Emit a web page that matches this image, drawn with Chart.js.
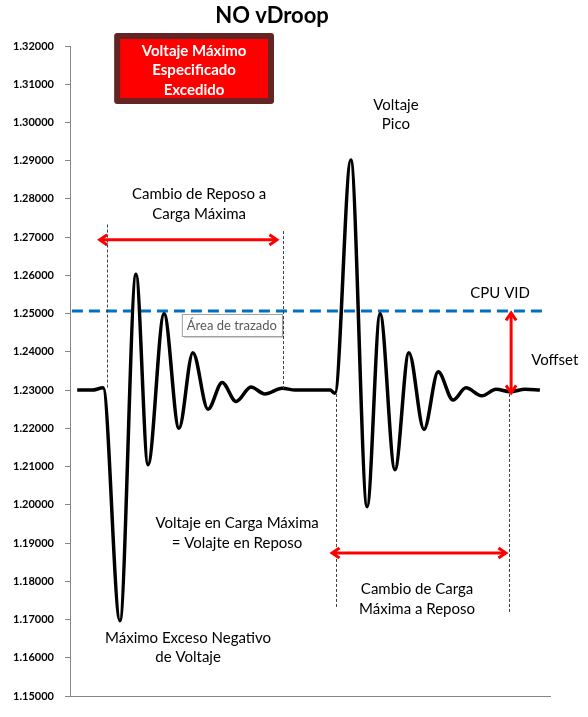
<!DOCTYPE html>
<html>
<head>
<meta charset="utf-8">
<script src="https://cdn.jsdelivr.net/npm/chart.js@4.4.0/dist/chart.umd.min.js"></script>
<style>
  html, body { margin: 0; padding: 0; background: #fff; }
  #wrap { width: 588px; height: 717px; }
</style>
</head>
<body>
<div id="wrap"><canvas id="myChart"></canvas></div>
<script>
// tiempo (unidades arbitrarias) y voltaje
const tiempo = [1.5, 4.6, 6.9, 10.4, 13.75, 16.25, 19.6, 22.7, 25.6, 28.75, 31.7, 34.6, 37.7, 40.6, 44.2, 46.9,
  54.2, 55.2, 58.5, 61.9, 64.6, 67.7, 70.6, 73.75, 76.7, 79.8, 82.5, 85.8, 88.75, 91.7, 94.8, 97.9];
const voltaje = [1.2300, 1.2300, 1.2306, 1.1697, 1.2603, 1.2105, 1.2500, 1.2200, 1.2398, 1.2250, 1.2320, 1.2270, 1.2308, 1.2290, 1.2305, 1.2300,
  1.2300, 1.2292, 1.2902, 1.1995, 1.2500, 1.2092, 1.2398, 1.2197, 1.2348, 1.2274, 1.2306, 1.2285, 1.2302, 1.2296, 1.2302, 1.2300];

const vidTiempo = [0.4, 99.0];
const vidVoltaje = [1.2507, 1.2507];

const yTicks = [1.15, 1.16, 1.17, 1.18, 1.19, 1.20, 1.21, 1.22, 1.23, 1.24, 1.25, 1.26, 1.27, 1.28, 1.29, 1.30, 1.31, 1.32];

// lineas guia punteadas: [t, v1, v2]
const guias = [[7.8, 1.2733, 1.2305], [44.4, 1.2716, 1.2300], [55.4, 1.2290, 1.1730], [91.5, 1.2290, 1.1716]];
// flechas rojas: [t1, v1, t2, v2]
const flechas = [[6.2, 1.2693, 43.1, 1.2693], [54.6, 1.1874, 90.8, 1.1874], [91.9, 1.2502, 91.9, 1.2293]];
// textos: [texto, t, v]
const textos = [
  ["Cambio de Reposo a", 26.9, 1.2812], ["Carga Máxima", 26.9, 1.2760],
  ["Voltaje", 67.9, 1.3046], ["Pico", 67.9, 1.2996],
  ["CPU VID", 89.6, 1.2554],
  ["Voffset", 101.0, 1.2379],
  ["Voltaje en Carga Máxima", 34.8, 1.1953], ["= Volajte en Reposo", 34.8, 1.1901],
  ["Cambio de Carga", 72.3, 1.1780], ["Máxima a Reposo", 72.3, 1.1728],
  ["Máximo Exceso Negativo", 24.6, 1.1652], ["de Voltaje", 24.6, 1.1602]
];
const cajaRoja = { t1: 9.2, v1: 1.3234, t2: 42.5, v2: 1.3048, lineas: ["Voltaje Máximo", "Especificado", "Excedido"] };
const areaTrazado = { t: 23.3, v: 1.2499, texto: "Área de trazado" };

const FONT = "Lato, 'Noto Sans', sans-serif";

function flechaDoble(ctx, x1, y1, x2, y2) {
  const ang = Math.atan2(y2 - y1, x2 - x1);
  const h = 9;
  ctx.beginPath();
  ctx.moveTo(x1, y1);
  ctx.lineTo(x2, y2);
  ctx.stroke();
  [[x2, y2, ang], [x1, y1, ang + Math.PI]].forEach(([x, y, a]) => {
    ctx.beginPath();
    ctx.moveTo(x - h * Math.cos(a - 0.6), y - h * Math.sin(a - 0.6));
    ctx.lineTo(x, y);
    ctx.lineTo(x - h * Math.cos(a + 0.6), y - h * Math.sin(a + 0.6));
    ctx.stroke();
  });
}

const anotaciones = {
  id: "anotaciones",
  afterDraw(chart) {
    const ctx = chart.ctx;
    const sx = chart.scales.x, sy = chart.scales.y;
    const X = t => sx.getPixelForValue(t), Y = v => sy.getPixelForValue(v);
    ctx.save();

    // titulo
    ctx.fillStyle = "#000";
    ctx.font = "bold 22px " + FONT;
    ctx.textAlign = "center";
    ctx.textBaseline = "middle";
    ctx.fillText("NO vDroop", 272, 16);

    // guias
    ctx.strokeStyle = "#404040";
    ctx.lineWidth = 1;
    ctx.setLineDash([3, 2]);
    guias.forEach(([t, a, b]) => {
      ctx.beginPath();
      ctx.moveTo(Math.round(X(t)) + 0.5, Y(a));
      ctx.lineTo(Math.round(X(t)) + 0.5, Y(b));
      ctx.stroke();
    });
    ctx.setLineDash([]);

    // flechas
    ctx.strokeStyle = "#ff0000";
    ctx.lineWidth = 3;
    flechas.forEach(([t1, v1, t2, v2]) => flechaDoble(ctx, X(t1), Y(v1), X(t2), Y(v2)));

    // textos
    ctx.fillStyle = "#000";
    ctx.font = "15px " + FONT;
    textos.forEach(([s, t, v]) => ctx.fillText(s, X(t), Y(v)));

    // caja roja
    const bx = X(cajaRoja.t1), by = Y(cajaRoja.v1), bw = X(cajaRoja.t2) - bx, bh = Y(cajaRoja.v2) - by;
    ctx.fillStyle = "#632523";
    ctx.beginPath();
    ctx.roundRect(bx, by, bw, bh, 3);
    ctx.fill();
    ctx.fillStyle = "#ff0000";
    ctx.fillRect(bx + 6, by + 6, bw - 12, bh - 12);
    ctx.fillStyle = "#fff";
    ctx.font = "bold 15px " + FONT;
    cajaRoja.lineas.forEach((s, i) => ctx.fillText(s, bx + bw / 2, by + 18 + i * 19.5));

    // area de trazado
    const ax = X(areaTrazado.t), ay = Y(areaTrazado.v);
    ctx.font = "13px " + FONT;
    const w = ctx.measureText(areaTrazado.texto).width + 10;
    ctx.fillStyle = "rgba(0,0,0,0.18)";
    ctx.fillRect(ax + 2, ay + 2, w, 22);
    ctx.fillStyle = "#fff";
    ctx.fillRect(ax, ay, w, 22);
    ctx.strokeStyle = "#a0a0a0";
    ctx.lineWidth = 1;
    ctx.strokeRect(ax + 0.5, ay + 0.5, w, 22);
    ctx.fillStyle = "#595959";
    ctx.textAlign = "left";
    ctx.fillText(areaTrazado.texto, ax + 5, ay + 12);

    ctx.restore();
  }
};

new Chart(document.getElementById("myChart"), {
  type: "line",
  data: {
    datasets: [
      {
        label: "Voltaje",
        data: tiempo.map((t, i) => ({ x: t, y: voltaje[i] })),
        borderColor: "#000",
        borderWidth: 3.5,
        pointRadius: 0,
        cubicInterpolationMode: "monotone",
        fill: false,
      },
      {
        label: "CPU VID",
        data: vidTiempo.map((t, i) => ({ x: t, y: vidVoltaje[i] })),
        borderColor: "#0070c0",
        borderWidth: 3,
        borderDash: [11, 6],
        pointRadius: 0,
        fill: false,
      },
    ],
  },
  options: {
    responsive: true,
    maintainAspectRatio: false,
    animation: false,
    events: [],
    layout: { padding: { top: 46, right: 38, bottom: 21, left: 0 } },
    scales: {
      x: {
        type: "linear",
        min: 0,
        max: 100,
        ticks: { display: false },
        grid: { drawOnChartArea: false, drawTicks: false },
        border: { color: "#868686", width: 1 },
        afterFit: s => { s.height = 0; },
      },
      y: {
        min: 1.15,
        max: 1.32,
        afterBuildTicks: s => { s.ticks = yTicks.map(v => ({ value: v })); },
        ticks: {
          callback: v => v.toFixed(5),
          color: "#000",
          font: { family: FONT, size: 11, weight: "bold" },
          padding: 11,
        },
        grid: { drawOnChartArea: false, tickLength: 5, color: "#868686" },
        border: { color: "#868686", width: 1 },
        afterFit: s => { s.width = 70; },
      },
    },
    plugins: {
      legend: { display: false },
      tooltip: { enabled: false },
      title: { display: false },
    },
  },
  plugins: [anotaciones],
});
</script>
</body>
</html>
